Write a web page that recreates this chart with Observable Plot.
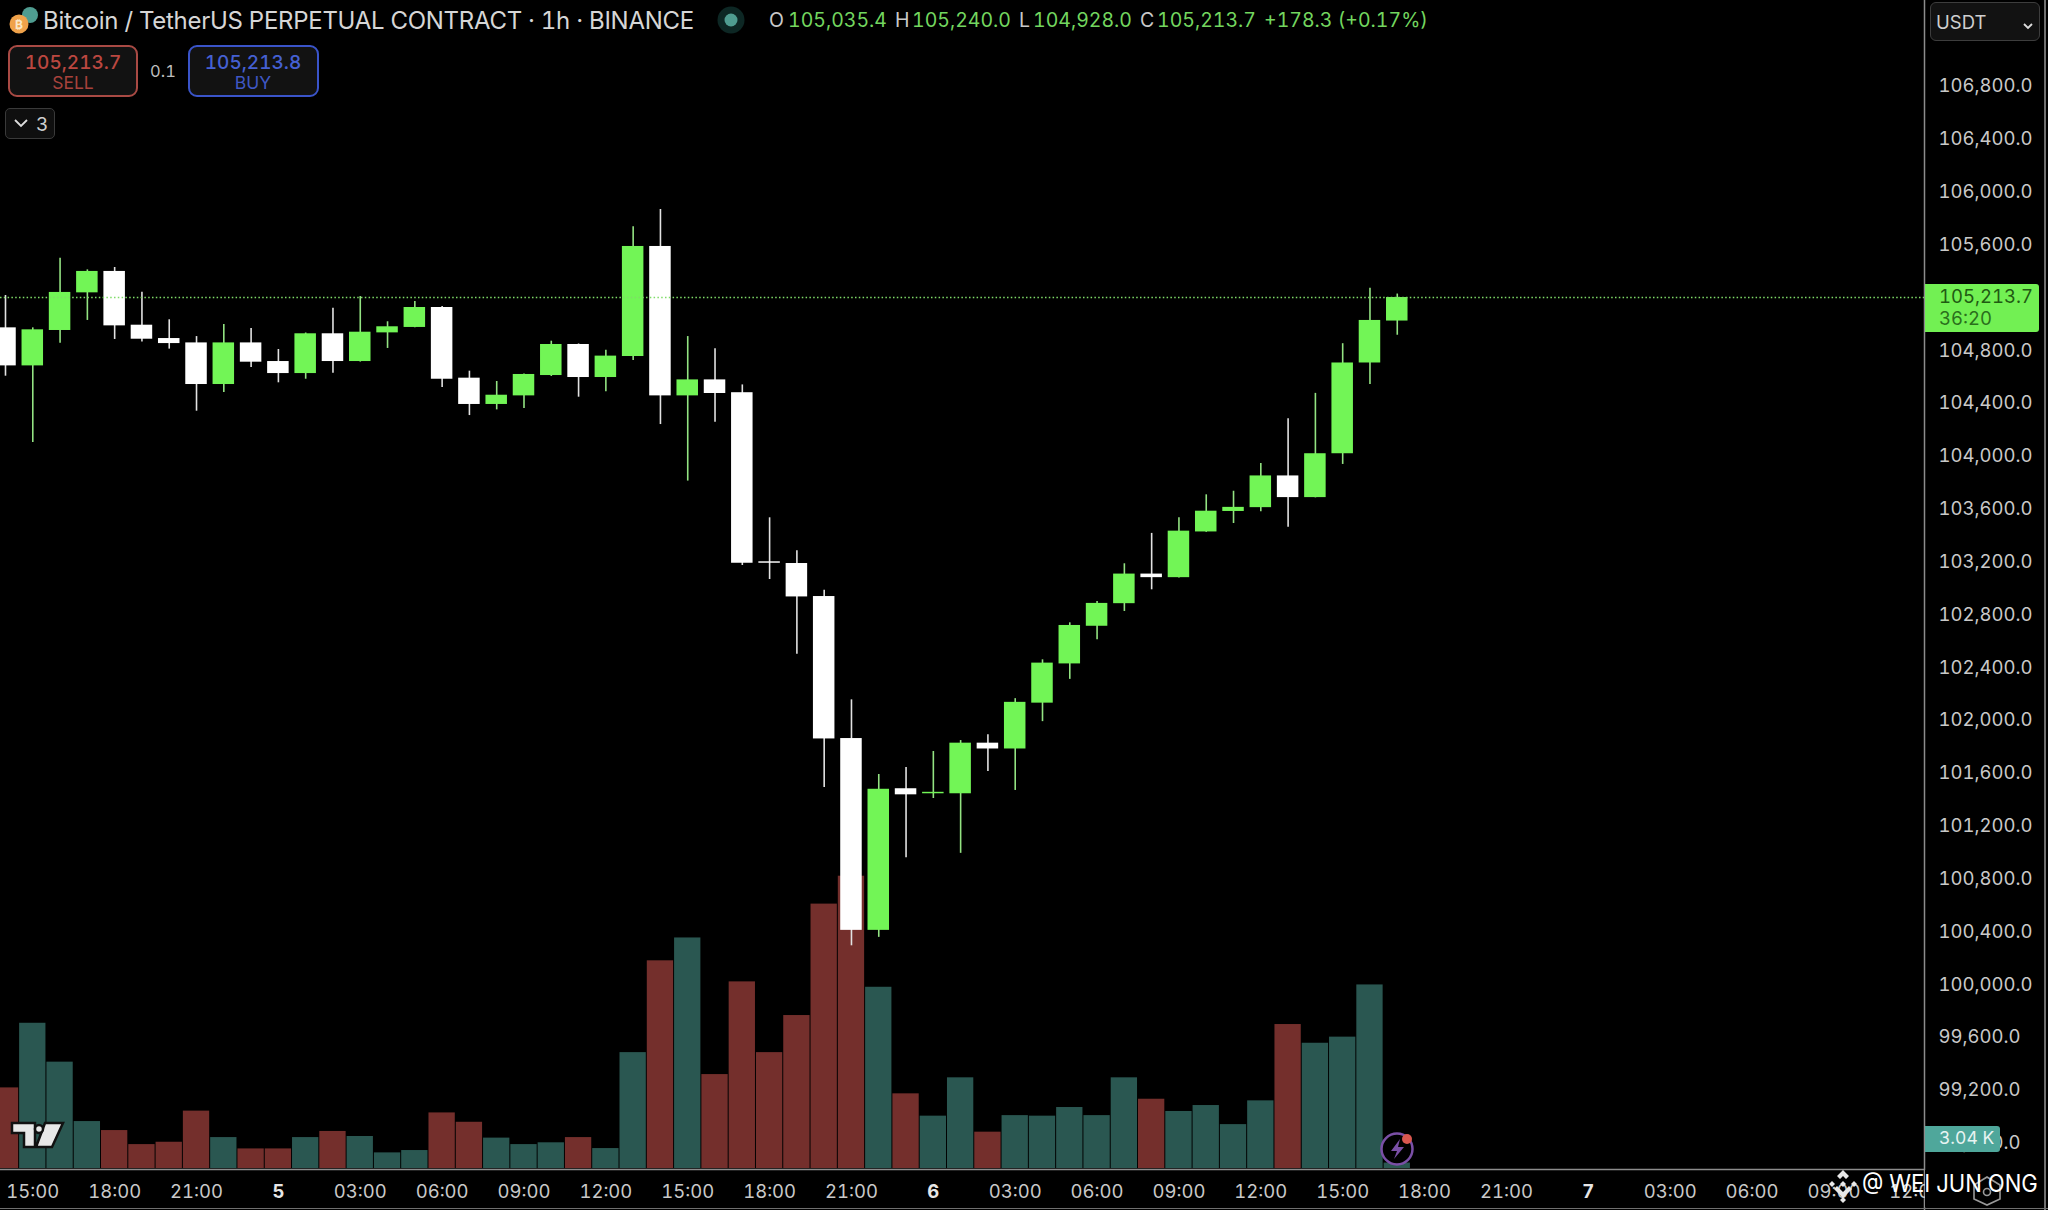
<!DOCTYPE html>
<html>
<head>
<meta charset="utf-8">
<script src="https://cdn.jsdelivr.net/npm/d3@7"></script>
<script src="https://cdn.jsdelivr.net/npm/@observablehq/plot@0.6"></script>
<style>
html,body{margin:0;padding:0;background:#000;}
#wrap{position:relative;width:2048px;height:1210px;overflow:hidden;background:#000;font-family:Inter,Roboto,sans-serif;font-variant-numeric:tabular-nums;}
#wrap svg{display:block;}
.a{position:absolute;white-space:nowrap;line-height:1;}
.box{position:absolute;box-sizing:border-box;}
</style>
</head>
<body>
<div id="wrap"></div>
<script>
// Hourly bars: first bar is 4 June 14:00 UTC
const opens  = [104984,104696,104964,105249,105411,105004,104903,104870,104555,104870,104729,104638,104939,104729,104946,104987,105138,104603,104404,104469,104623,104858,104608,104767,105600,104469,104590,104493,103213,103200,102950,101875,100423,101495,101457,101457,101840,101796,102143,102440,102725,102896,103120,103093,103439,103594,103623,103863,103699,104031,104718,105035.4];
const closes = [104696,104969,105252,105411,104999,104898,104865,104555,104870,104724,104638,104939,104729,104951,104992,105138,104595,104404,104474,104631,104858,104608,104770,105600,104469,104590,104487,103202,103202,102947,101872,100423,101491,101449,101468,101840,101796,102149,102446,102731,102898,103120,103093,103445,103596,103625,103863,103699,104031,104718,105040,105213.7];
const highs  = [105229,104984,105511,105423,105441,105254,105045,104918,105009,104979,104820,104945,105133,105221,105030,105183,105145,104656,104578,104635,104883,104862,104815,105749,105880,104918,104825,104552,103546,103297,102997,102168,101603,101656,101777,101860,101903,102177,102471,102751,102912,103198,103428,103547,103720,103747,103958,104296,104488,104864,105283,105240];
const lows   = [104618,104116,104868,105040,104896,104876,104823,104353,104494,104684,104568,104595,104641,104725,104828,104985,104533,104320,104363,104373,104616,104459,104500,104737,104252,103824,104269,103185,103079,102513,101504,100306,100370,100973,101421,101006,101625,101482,102003,102323,102622,102837,103001,103090,103436,103503,103591,103474,103697,103950,104556,104928];
const volumesK = [44.8,80.7,59.1,26.1,21.1,13.3,14.6,31.9,17.2,10.9,10.9,17.2,20.6,17.8,8.7,10,30.9,25.7,16.9,13.3,14.3,17.2,11.1,64.4,115.4,128.1,52.2,103.7,64.4,85,146.9,162.4,100.7,41.5,29.1,50.4,20.2,29.4,29.1,33.9,29.4,50.4,38.5,31.7,35,24.4,37.6,80,69.6,73,102,3.04];
const priceTicks = [98800,99200,99600,100000,100400,100800,101200,101600,102000,102400,102800,103200,103600,104000,104400,104800,105200,105600,106000,106400,106800];
const lastClose = 105213.7;

const GREEN="#72f556", WHITE="#ffffff", GREEN_W="#93e382", WHITE_W="#e2e2e2", VOL_UP="#2a5751", VOL_DN="#742f2c";
const HOUR=3600e3, firstBar=Date.UTC(2025,5,4,14);
const xDomain=[new Date(firstBar-0.183*HOUR),new Date(firstBar+70.32*HOUR)];
const yDomain=[98612.7,107462];
const volumeBase=98620, pricePerK=13.626;
const volPrice=v=>volumeBase+v*pricePerK;

const bars=opens.map((o,i)=>({t:new Date(firstBar+i*HOUR),open:o,close:closes[i],high:highs[i],low:lows[i],vol:volumesK[i],up:closes[i]>=o}));
const timeTicks=d3.utcHour.every(3).range(new Date(Date.UTC(2025,5,4,15)),new Date(Date.UTC(2025,5,7,13)));
const isDay=d=>d.getUTCHours()===0;

const chart=Plot.plot({
  width:2048,height:1210,marginLeft:0,marginRight:124,marginTop:0,marginBottom:41,
  style:{background:"#000",fontFamily:"Inter,Roboto,sans-serif"},
  x:{type:"utc",domain:xDomain},
  y:{domain:yDomain},
  marks:[
    Plot.rect(bars,{x1:d=>new Date(+d.t-0.482*HOUR),x2:d=>new Date(+d.t+0.482*HOUR),y1:volumeBase,y2:d=>volPrice(d.vol),fill:d=>d.up?VOL_UP:VOL_DN}),
    Plot.ruleX(bars,{x:"t",y1:"low",y2:"high",stroke:d=>d.up?GREEN_W:WHITE_W,strokeWidth:1.6}),
    Plot.rect(bars,{x1:d=>new Date(+d.t-0.394*HOUR),x2:d=>new Date(+d.t+0.394*HOUR),y1:"open",y2:"close",fill:d=>d.up?GREEN:WHITE}),
    Plot.ruleY([lastClose],{stroke:"#7fdc68",strokeWidth:1.3,strokeDasharray:"1.5,2.3"}),
    Plot.ruleY([yDomain[0]],{stroke:"#8c8c8c",strokeWidth:1.5}),
    Plot.ruleX([xDomain[1]],{y1:yDomain[1],y2:98302,stroke:"#8c8c8c",strokeWidth:1.5}),
    Plot.axisY({anchor:"right",ticks:priceTicks,tickFormat:d3.format(",.1f"),tickSize:0,tickPadding:14,dy:-1.5,label:null,fontSize:18.5,fill:"#c9c9c9"}),
    Plot.axisX({anchor:"bottom",ticks:timeTicks.filter(d=>!isDay(d)),tickFormat:d3.utcFormat("%H:00"),tickSize:0,tickPadding:15,label:null,fontSize:18.5,fill:"#c9c9c9"}),
    Plot.axisX({anchor:"bottom",ticks:timeTicks.filter(isDay),tickFormat:d=>String(d.getUTCDate()),tickSize:0,tickPadding:15,label:null,fontSize:18.5,fontWeight:"bold",fill:"#e6e6e6"})
  ]
});
const wrap=document.getElementById("wrap");
wrap.appendChild(chart);

function txt(s,left,cy,size,color,extra){
  const e=document.createElement("div");e.className="a";e.textContent=s;
  e.style.cssText+=`left:${left}px;top:${cy}px;font-size:${size}px;color:${color};transform:translateY(-50%);`+(extra||"");
  wrap.appendChild(e);return e;
}
function box(l,t,w,h,css){
  const e=document.createElement("div");e.className="box";
  e.style.cssText+=`left:${l}px;top:${t}px;width:${w}px;height:${h}px;`+css;
  wrap.appendChild(e);return e;
}
function icon(l,t,w,h,inner){
  const e=document.createElement("div");e.className="a";
  e.style.cssText+=`left:${l}px;top:${t}px;`;
  e.innerHTML=`<svg width="${w}" height="${h}" viewBox="0 0 ${w} ${h}">${inner}</svg>`;
  wrap.appendChild(e);return e;
}

// Header
icon(6,6,34,30,`<circle cx="24" cy="9" r="8" fill="#4f9c90"/><circle cx="13" cy="18" r="9.5" fill="#f0a24a"/><text x="13" y="23" font-size="12" font-weight="700" text-anchor="middle" fill="#fbe6c6">₿</text>`);
txt("Bitcoin / TetherUS PERPETUAL CONTRACT · 1h · BINANCE",43,20.5,24,"#d6d6d6","letter-spacing:-0.28px;");
icon(717,6,28,28,`<circle cx="14" cy="14" r="13.5" fill="#0d2724"/><circle cx="14" cy="14" r="6.5" fill="#4f9c90"/>`);
const lab="#c9c9c9", val="#73d65f";
[["O",769,lab],["105,035.4",788,val],["H",895,lab],["105,240.0",912,val],["L",1019,lab],["104,928.0",1033,val],["C",1140,lab],["105,213.7",1157,val],["+178.3 (+0.17%)",1264,val]]
  .forEach(([s,x,c])=>txt(s,x,20.5,19.5,c));

// Sell / buy
box(8,45,130,52,"border:2px solid #a94a44;border-radius:9px;background:#121212;");
txt("105,213.7",73,62,19,"#bb4740","transform:translate(-50%,-50%);font-weight:500;");
txt("SELL",73,83,17.5,"#a8423c","transform:translate(-50%,-50%);");
txt("0.1",163,71,16.5,"#bdbdbd","transform:translate(-50%,-50%);");
box(188,45,131,52,"border:2px solid #3a54c9;border-radius:9px;background:#121212;");
txt("105,213.8",253,62,19,"#4560d2","transform:translate(-50%,-50%);font-weight:500;");
txt("BUY",253,83,17.5,"#3f57c4","transform:translate(-50%,-50%);");
box(5,108,50,31,"border:1.5px solid #3a3a3a;border-radius:5px;background:#0f0f0f;");
icon(14,118,14,10,`<path d="M1 2 L7 8 L13 2" fill="none" stroke="#ddd" stroke-width="1.8"/>`);
txt("3",36,124,19,"#cfcfcf");

// Currency select
box(1930,2,110,39,"border:1.5px solid #3d3d3d;border-radius:6px;background:#121212;");
txt("USDT",1936,22,18.5,"#cfcfcf");
icon(2023,23,10,7,`<path d="M1 1 L5 5 L9 1" fill="none" stroke="#ddd" stroke-width="1.8"/>`);

// Price tag
box(1924.5,284,114,48,"background:#72f053;border-radius:0 3px 3px 0;");
txt("105,213.7",1939,296,18.5,"#1f5a12");
txt("36:20",1939,318,18.5,"#2a6f1c");

// Volume tag
box(1924.5,1126,75.5,26,"background:#4fa79b;border-radius:0 3px 3px 0;");
txt("3.04 K",1939,1138,17.5,"#e8f4f2");

// Outer edge + clip of the time scale beyond the price axis
box(1925,1170,119,37,"background:#000;");
box(2044,0,2,1210,"background:#6f6f6f;");
box(0,1207.5,2048,1.5,"background:#6f6f6f;");

// TradingView logo
icon(9,1120,56,30,`<path d="M3 3 H26 V27 H15 V13 H3 Z M36 3 H54 L43 27 H27 Z" fill="#e8e8e8" stroke="#111" stroke-width="2.5"/><circle cx="30" cy="9" r="4" fill="#e8e8e8" stroke="#111" stroke-width="2.5"/>`);

// Flash icon
icon(1378,1130,38,38,`<circle cx="19" cy="19" r="15.5" fill="#000" stroke="#7a4fa6" stroke-width="2.5"/><path d="M22 9 L13 21 H19 L16 29 L26 17 H20 Z" fill="#7a4fa6"/><circle cx="29" cy="9" r="5" fill="#d9574f"/>`);

// Watermark and exchange mark
icon(1970,1175,34,32,`<path d="M17 2 L30 10 V24 L17 30 L4 24 V10 Z" fill="none" stroke="#9a9a9a" stroke-width="1.6"/><circle cx="17" cy="17" r="3.5" fill="none" stroke="#9a9a9a" stroke-width="1.6"/>`);
icon(1826,1169,34,36,`<g fill="#e8e8e8"><path d="M17 1 L23 7 L20 10 L17 7 L14 10 L11 7 Z"/><path d="M17 12 L20 15 L17 18 L14 15 Z"/><path d="M6 12 L9 15 L6 18 L3 15 Z"/><path d="M28 12 L31 15 L28 18 L25 15 Z"/><path d="M8 20 L11 17 L17 23 L23 17 L26 20 L17 29 Z"/><path d="M14 31 L17 28 L20 31 L17 34 Z"/></g>`);
txt("@ WEI JUN ONG",1862,1184,24,"#ffffff","transform:translateY(-50%) scaleX(.92);transform-origin:left center;");
</script>
</body>
</html>
